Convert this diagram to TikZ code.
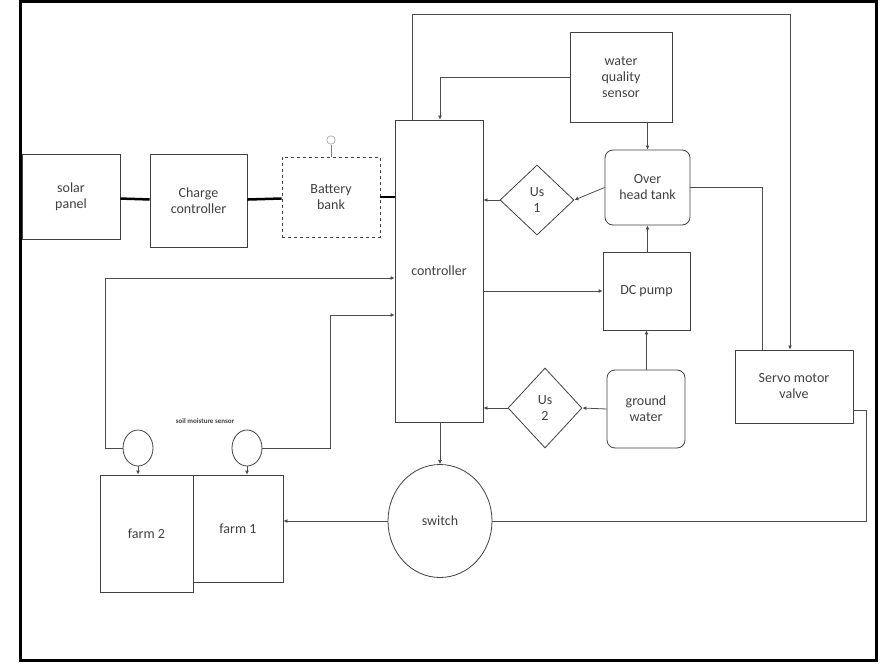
\documentclass[tikz,border=0pt]{standalone}
\usepackage{fontspec}
\setmainfont{Carlito}
\usetikzlibrary{shapes.geometric,arrows.meta}
\begin{document}
\begin{tikzpicture}[x=1pt,y=-1pt,
  box/.style={draw=black!75,thick,align=center,font=\fontsize{14}{16}\selectfont,text=black!75,inner sep=1pt},
  ln/.style={draw=black!70,thick},
  ar/.style={ln,-{Latex[length=4pt,width=4pt]}},
  thk/.style={draw=black,line width=2.5pt}]
\useasboundingbox (0,0) rectangle (893,666);
\draw[line width=3pt] (20,2) rectangle (876,660);
\node[box,minimum width=98,minimum height=85] (solar) at (71,197) {solar\\panel};
\node[box,minimum width=97,minimum height=93] (charge) at (198.5,201) {Charge\\controller};
\node[box,dashed,minimum width=98,minimum height=80] (batt) at (331,197) {Battery\\bank};
\draw[black!50] (331,157) -- (331,145);
\node[draw=black!50,circle,inner sep=3pt] (handle) at (331,140) {};
\node[box,minimum width=88,minimum height=302] (ctrl) at (439,271) {controller};
\node[box,minimum width=102,minimum height=90] (wqs) at (621,77) {water\\quality\\sensor};
\node[box,rounded corners=8pt,minimum width=85,minimum height=75] (oht) at (647.5,187.5) {Over\\head tank};
\node[box,diamond,aspect=1.05,minimum width=74,minimum height=70,inner sep=0pt] (us1) at (537,200) {Us\\1};
\node[box,minimum width=87,minimum height=78] (dc) at (646.5,291) {DC pump};
\node[box,diamond,aspect=0.92,minimum width=74,minimum height=80,inner sep=0pt] (us2) at (545,408) {Us\\2};
\node[box,rounded corners=8pt,minimum width=78,minimum height=78] (gw) at (646,409) {ground\\water};
\node[box,minimum width=118,minimum height=73] (servo) at (794,386.5) {Servo motor\\valve};
\node[box,ellipse,minimum width=104,minimum height=113] (sw) at (440,521) {switch};
\node[box,minimum width=93,minimum height=117] (f2) at (146.5,533.5) {farm 2};
\node[box,minimum width=90,minimum height=107] (f1) at (238,528.5) {farm 1};
\node[box,ellipse,minimum width=30,minimum height=36] (s2) at (138,448) {};
\node[box,ellipse,minimum width=30,minimum height=36] (s1) at (247,448) {};
\node[font=\fontsize{7}{8}\selectfont\bfseries,text=black!75] (soil) at (205,421) {soil moisture sensor};
% power chain
\draw[thk] (solar) -- (charge);
\draw[thk] (charge) -- (batt);
\draw[thk] (batt) -- (batt-|ctrl.west);
% top loop
\coordinate (t1) at (412,14);
\coordinate (t2) at (790,14);
\draw[ar] (ctrl.north-|t1) -- (t1) -- (t2) -- (servo.north-|t2);
\draw[ar] (wqs.west) -- (wqs.west-|440,0) -- (ctrl.north-|440,0);
\draw[ar] (wqs.south-|oht.north) -- (oht.north);
\draw[ar] (oht.west) -- (us1.east);
\draw[ar] (us1.west) -- (us1.west-|ctrl.east);
\coordinate (o1) at (762,187.5);
\draw[ln] (oht.east) -- (o1) -- (servo.north-|o1);
\draw[ar] (dc.west-|ctrl.east) -- (dc.west);
\draw[ar] (dc.north-|oht.south) -- (oht.south);
\draw[ar] (gw.north-|dc.south) -- (dc.south);
\draw[ar] (gw.west) -- (us2.east);
\draw[ar] (us2.west) -- (us2.west-|ctrl.east);
\draw[ar] (ctrl.south-|sw.north) -- (sw.north);
\draw[ar] (sw.west) -- (sw.west-|f1.east);
\coordinate (r1) at (866,521);
\coordinate (r2) at (866,410);
\draw[ln] (sw.east) -- (r1) -- (r2) -- (r2-|servo.east);
% soil sensors
\coordinate (a1) at (105,448);
\coordinate (a2) at (105,278);
\draw[ar] (s2.west) -- (a1) -- (a2) -- (a2-|ctrl.west);
\coordinate (b1) at (330,448);
\coordinate (b2) at (330,315);
\draw[ar] (s1.east) -- (b1) -- (b2) -- (b2-|ctrl.west);
\draw[ar] (s2.south) -- (s2.south|-f2.north);
\draw[ar] (s1.south) -- (s1.south|-f1.north);
\end{tikzpicture}
\end{document}
